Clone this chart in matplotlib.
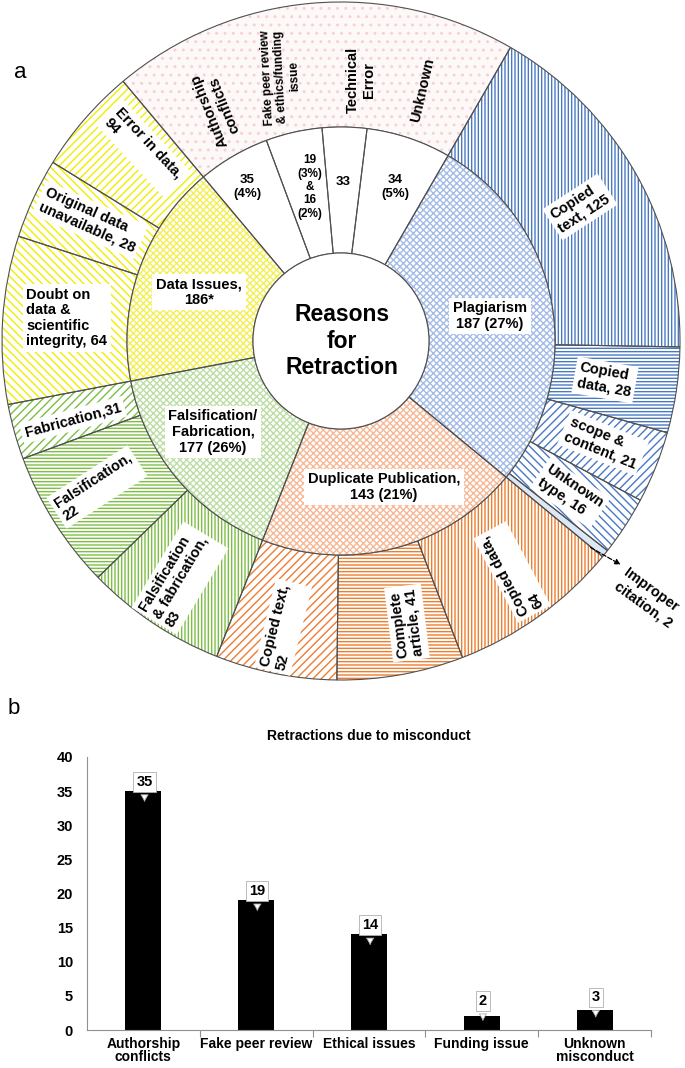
import matplotlib.pyplot as plt
from matplotlib.patches import Circle

plt.rcParams['font.family'] = ['Liberation Sans', 'DejaVu Sans']
plt.rcParams['hatch.linewidth'] = 1.0

W, H = 685, 1068
C = (341, H - 341)      # centre of the sunburst (pixel units)
R0, R1, R2 = 88, 214, 339

# ---- panel a: inner ring (main reasons), drawn clockwise from 60 deg
inner_labels = ["Plagiarism\n187 (27%)", "Duplicate Publication,\n143 (21%)",
                "Falsification/\nFabrication,\n177 (26%)", "Data Issues,\n186*",
                "35\n(4%)", "19\n(3%)\n&\n16\n(2%)", "33", "34\n(5%)"]
inner_span = [99.5, 72.0, 57.7, 60.8, 19.6, 15.3, 12.1, 23.0]   # degrees as drawn
inner_hcol = ["#a3bbe6", "#f6b896", "#bcdda4", "#f3ef55",
              "white", "white", "white", "white"]
inner_hatch = ["xxxxx", "xxxxx", "xxxxx", "xxxxx", None, None, None, None]

# ---- panel a: outer ring (sub reasons)
outer_labels = ["Copied\ntext, 125", "Copied\ndata, 28", "scope &\ncontent, 21",
                "Unknown\ntype, 16", "Improper\ncitation, 2", "Copied data,\n64",
                "Complete\narticle, 41", "Copied text,\n52",
                "Falsification\n& fabrication,\n83", "Falsification,\n22",
                "Fabrication,31", "Doubt on\ndata &\nscientific\nintegrity, 64",
                "Original data\nunavailable, 28", "Error in data,\n94", ""]
outer_span = [61.0, 14.7, 12.3, 10.2, 1.3, 29.5, 21.7, 20.8,
              24.3, 23.9, 9.5, 28.8, 13.8, 18.2, 70.0]
outer_face = ["white"] * 4 + ["#dce8f6"] + ["white"] * 9 + ["#fef9f9"]
outer_hcol = ["#4a78c4"] * 5 + ["#ed7d31"] * 3 + ["#7dbf45"] * 3 + ["#f2ee00"] * 3 + ["#f6d2d2"]
outer_hatch = ["|||||", "-----", "////", "\\\\\\\\", None,
               "|||||", "-----", "////",
               "|||||", "-----", "////",
               "\\\\\\\\", "\\\\\\\\", "////", ".."]

misc_labels = ["Authorship\nconflicts", "Fake peer review\n& ethics/funding\nissue",
               "Technical\nError", "Unknown"]

# ---- panel b
bar_cats = ["Authorship\nconflicts", "Fake peer review", "Ethical issues",
            "Funding issue", "Unknown\nmisconduct"]
bar_vals = [35, 19, 14, 2, 3]

fig = plt.figure(figsize=(W / 100, H / 100), dpi=100)
ax = fig.add_axes([0, 0, 1, 1])


def ring(spans, radius, width, faces, hcols, hatches):
    wedges, _ = ax.pie(spans, radius=radius, center=C, startangle=60,
                       counterclock=False, colors=faces, hatch=hatches,
                       wedgeprops=dict(width=width, linewidth=0))
    for w, hc in zip(wedges, hcols):
        w.set_edgecolor(hc)
        w.set_linewidth(0)
    ax.pie(spans, radius=radius, center=C, startangle=60, counterclock=False,
           wedgeprops=dict(width=width, facecolor='none', edgecolor='#505050',
                           linewidth=0.8))


ring(outer_span, R2, R2 - R1, outer_face, outer_hcol, outer_hatch)
ring(inner_span, R1, R1 - R0, ["white"] * 8, inner_hcol, inner_hatch)
ax.add_patch(Circle(C, R0, fc='white', ec='#505050', lw=0.8, zorder=3))

ax.set_xlim(0, W)
ax.set_ylim(0, H)
ax.set_aspect('auto')
ax.axis('off')

box = dict(boxstyle='square,pad=0.25', fc='white', ec='none')


def txt(s, x, y, rot=0, size=11, bbox=box, ma='left', weight='bold'):
    ax.text(x, H - y, s, rotation=rot, rotation_mode='anchor', ha='center',
            va='center', multialignment=ma, fontsize=size, fontweight=weight,
            bbox=bbox, linespacing=1.15, zorder=5)


# outer ring labels
opos = [(580, 207, 33), (605, 380, -10), (603, 443, -22), (570, 493, -34),
        None, (512, 572, 118), (407, 623, 97), (283, 627, 76),
        (180, 578, 59), (97, 487, 33), (73, 420, 15), (67, 318, 0),
        (90, 220, -24), (143, 148, -47)]
for lab, p in zip(outer_labels, opos):
    if p is not None:
        txt(lab, p[0], p[1], p[2], size=10.5)

# improper citation callout
ax.annotate("", xy=(623, H - 566), xytext=(588, H - 546),
            arrowprops=dict(arrowstyle='-|>', linestyle='--', color='black',
                            lw=0.9, mutation_scale=8), zorder=6)
txt(outer_labels[4], 648, 598, -36, size=10.5, bbox=None)

# misc labels in the pink zone
mpos = [(217, 108, 112, 10.5), (281, 77, 93, 8.5), (361, 80, 90, 10.5), (423, 90, 77, 10.5)]
for lab, (x, y, r, s) in zip(misc_labels, mpos):
    txt(lab, x, y, r, size=s, bbox=None, ma='center')

# middle ring labels
ipos = [(490, 316, 10.5), (384, 487, 10.5), (213, 432, 10.5), (199, 292, 10.5),
        (247, 187, 9.5), (310, 187, 8.5), (343, 182, 9.5), (395, 187, 9.5)]
for i, (lab, (x, y, s)) in enumerate(zip(inner_labels, ipos)):
    txt(lab, x, y, 0, size=s, ma='center', bbox=box if i < 4 else None)

ax.text(C[0] + 1, C[1], "Reasons\nfor\nRetraction", ha='center', va='center',
        fontsize=16.5, fontweight='bold', linespacing=1.2, zorder=6)
ax.text(14, H - 72, "a", fontsize=16, ha='left', va='center')
ax.text(8, H - 708, "b", fontsize=16, ha='left', va='center')

# ---- panel b: bar chart
narrow = ['Liberation Sans Narrow', 'Liberation Sans', 'DejaVu Sans']
ax2 = fig.add_axes([87 / W, (H - 1030) / H, (651 - 87) / W, (1030 - 757) / H])
xs = list(range(len(bar_cats)))
ax2.bar(xs, bar_vals, width=0.32, color='black', zorder=2)
ax2.set_xlim(-0.5, len(bar_cats) - 0.5)
ax2.set_ylim(0, 40)
ax2.set_yticks(range(0, 41, 5))
ax2.set_xticks([i + 0.5 for i in xs])
ax2.set_xticklabels([])
ax2.set_xticks(xs, minor=True)
ax2.set_xticklabels(bar_cats, minor=True, family=narrow, fontweight='bold',
                    fontsize=10, linespacing=0.95)
ax2.tick_params(axis='x', which='minor', length=0, pad=5)
ax2.tick_params(axis='x', which='major', length=5, color='#909090')
ax2.tick_params(axis='y', length=0, pad=10)
for t in ax2.get_yticklabels():
    t.set_family(narrow)
    t.set_fontweight('bold')
    t.set_fontsize(10.5)
for sp in ['top', 'right']:
    ax2.spines[sp].set_visible(False)
for sp in ['left', 'bottom']:
    ax2.spines[sp].set_color('#909090')
ax2.set_title("Retractions due to misconduct", family=narrow, fontweight='bold',
              fontsize=10, pad=12)
for i, v in zip(xs, bar_vals):
    ax2.annotate(str(v), xy=(i + 0.01, v - min(1.9, v * 0.5)), xytext=(0, 11),
                 textcoords='offset points', ha='center', va='bottom',
                 family=narrow, fontweight='bold', fontsize=10.5,
                 bbox=dict(boxstyle='square,pad=0.2', fc='white', ec='#b0b0b0', lw=0.6),
                 arrowprops=dict(arrowstyle='wedge,tail_width=0.5,shrink_factor=0.4',
                                 fc='white', ec='#b0b0b0', lw=0.6))

fig.savefig("out.png", dpi=100)
